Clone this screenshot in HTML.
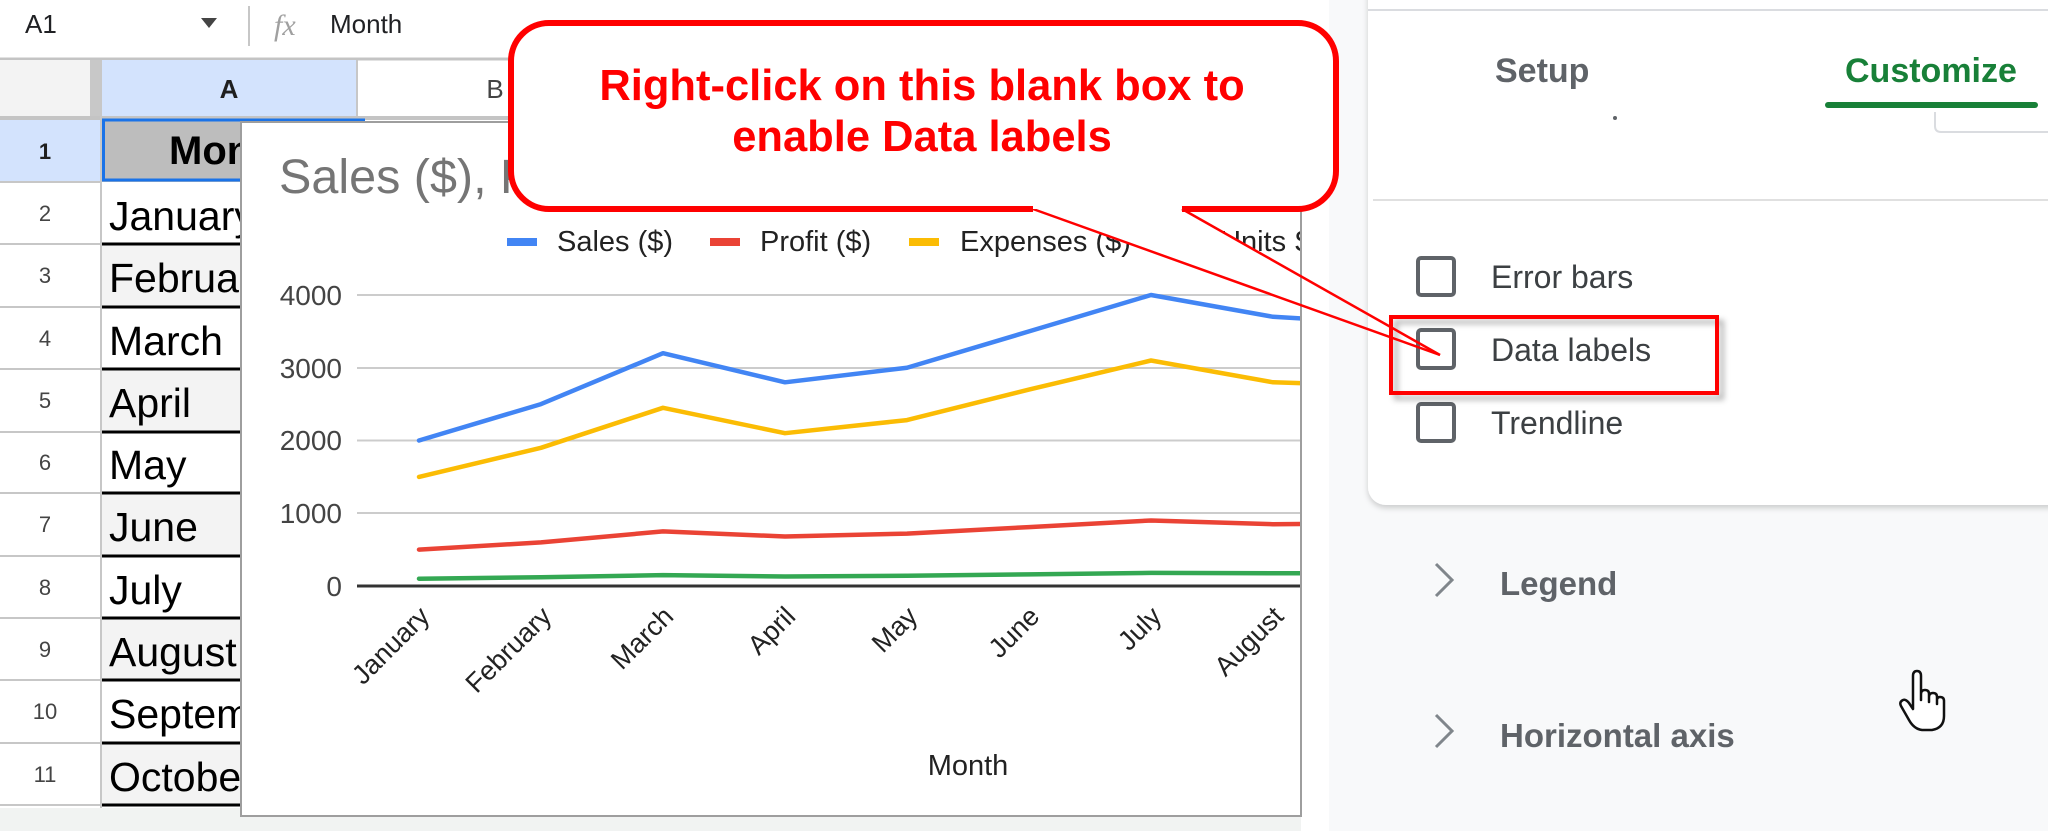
<!DOCTYPE html>
<html><head><meta charset="utf-8"><style>
html,body{margin:0;padding:0;background:#fff;}
svg{display:block;}
text{font-family:"Liberation Sans",Arial,sans-serif;}
</style></head><body>
<svg width="2048" height="831" viewBox="0 0 2048 831" xmlns="http://www.w3.org/2000/svg">
<defs>
<clipPath id="chartclip"><rect x="242" y="123" width="1058" height="693"/></clipPath>
<filter id="cardsh" x="-5%" y="-5%" width="110%" height="115%"><feDropShadow dx="0" dy="3" stdDeviation="3" flood-color="#000" flood-opacity="0.18"/></filter>
<filter id="redsh" x="-10%" y="-20%" width="125%" height="150%"><feDropShadow dx="5" dy="5" stdDeviation="3" flood-color="#000" flood-opacity="0.3"/></filter>
</defs>
<rect width="2048" height="831" fill="#fff"/>

<!-- formula bar -->
<text x="25" y="33" font-size="26" fill="#202124">A1</text>
<polygon points="201,18 217,18 209,28" fill="#444"/>
<line x1="249" y1="6" x2="249" y2="46" stroke="#c7c7c7" stroke-width="2"/>
<text x="274" y="35" font-size="30" fill="#a0a0a0" font-style="italic" style="font-family:'Liberation Serif',serif">fx</text>
<text x="330" y="33" font-size="26" fill="#202124">Month</text>
<line x1="0" y1="59" x2="1329" y2="59" stroke="#c4c4c4" stroke-width="3"/>

<!-- column header -->
<rect x="0" y="60" width="90" height="57" fill="#f3f3f3"/>
<rect x="90" y="60" width="12" height="57" fill="#c8c8c8"/>
<rect x="102" y="60" width="255" height="57" fill="#d3e3fd"/>
<line x1="357" y1="60" x2="357" y2="117" stroke="#c7c7c7" stroke-width="2"/>
<text x="229" y="98" font-size="26" fill="#1f1f1f" text-anchor="middle" font-weight="bold">A</text>
<text x="495" y="98" font-size="26" fill="#444" text-anchor="middle">B</text>
<line x1="0" y1="118" x2="1329" y2="118" stroke="#c4c4c4" stroke-width="4"/>

<!-- row headers -->
<rect x="0" y="120" width="100" height="62" fill="#d3e3fd"/>
<line x1="101" y1="60" x2="101" y2="808" stroke="#c7c7c7" stroke-width="2"/>
<g stroke="#c7c7c7" stroke-width="2">
<line x1="0" y1="182" x2="100" y2="182"/><line x1="0" y1="244" x2="100" y2="244"/>
<line x1="0" y1="307" x2="100" y2="307"/><line x1="0" y1="369" x2="100" y2="369"/>
<line x1="0" y1="432" x2="100" y2="432"/><line x1="0" y1="493" x2="100" y2="493"/>
<line x1="0" y1="556" x2="100" y2="556"/><line x1="0" y1="618" x2="100" y2="618"/>
<line x1="0" y1="680" x2="100" y2="680"/><line x1="0" y1="743" x2="100" y2="743"/>
<line x1="0" y1="805" x2="100" y2="805"/>
</g>
<g font-size="22" fill="#444" text-anchor="middle">
<text x="45" y="159" font-weight="bold" fill="#1f1f1f">1</text>
<text x="45" y="221">2</text><text x="45" y="283">3</text><text x="45" y="346">4</text>
<text x="45" y="408">5</text><text x="45" y="470">6</text><text x="45" y="532">7</text>
<text x="45" y="595">8</text><text x="45" y="657">9</text><text x="45" y="719">10</text>
<text x="45" y="782">11</text>
</g>

<!-- column A cells -->
<rect x="102" y="244" width="255" height="63" fill="#f3f3f3"/>
<rect x="102" y="369" width="255" height="63" fill="#f3f3f3"/>
<rect x="102" y="493" width="255" height="63" fill="#f3f3f3"/>
<rect x="102" y="618" width="255" height="62" fill="#f3f3f3"/>
<rect x="102" y="743" width="255" height="62" fill="#f3f3f3"/>
<rect x="102" y="120" width="255" height="62" fill="#bdbdbd"/>
<g font-size="41" fill="#000">
<text x="229" y="164" font-size="40" font-weight="bold" text-anchor="middle">Month</text>
<text x="109" y="230">January</text><text x="109" y="292">February</text>
<text x="109" y="355">March</text><text x="109" y="417">April</text>
<text x="109" y="479">May</text><text x="109" y="541">June</text>
<text x="109" y="604">July</text><text x="109" y="666">August</text>
<text x="109" y="728">September</text><text x="109" y="791">October</text>
</g>
<g stroke="#000" stroke-width="3">
<line x1="102" y1="244" x2="357" y2="244"/><line x1="102" y1="307" x2="357" y2="307"/>
<line x1="102" y1="369" x2="357" y2="369"/><line x1="102" y1="432" x2="357" y2="432"/>
<line x1="102" y1="493" x2="357" y2="493"/><line x1="102" y1="556" x2="357" y2="556"/>
<line x1="102" y1="618" x2="357" y2="618"/><line x1="102" y1="680" x2="357" y2="680"/>
<line x1="102" y1="743" x2="357" y2="743"/><line x1="102" y1="805" x2="357" y2="805"/>
</g>
<rect x="103.5" y="120" width="260" height="60" fill="none" stroke="#1a73e8" stroke-width="3"/>
<rect x="0" y="808" width="1301" height="23" fill="#f1f3f2"/>

<!-- chart -->
<rect x="241" y="122" width="1060" height="694" fill="#fff" stroke="#9e9e9e" stroke-width="2"/>
<g clip-path="url(#chartclip)">
<text x="279" y="193" font-size="48.5" fill="#757575">Sales ($), Profit ($), Expenses ($) and Units Sold</text>
<rect x="507" y="238" width="30" height="8" fill="#4285f4"/>
<text x="557" y="251" font-size="29" fill="#222">Sales ($)</text>
<rect x="710" y="238" width="30" height="8" fill="#ea4335"/>
<text x="760" y="251" font-size="29" fill="#222">Profit ($)</text>
<rect x="909" y="238" width="30" height="8" fill="#fbbc04"/>
<text x="960" y="251" font-size="29" fill="#222">Expenses ($)</text>
<rect x="1170" y="238" width="30" height="8" fill="#34a853"/>
<text x="1220" y="251" font-size="29" fill="#222">Units Sold</text>

<g stroke="#cccccc" stroke-width="2">
<line x1="357" y1="295" x2="1301" y2="295"/>
<line x1="357" y1="368" x2="1301" y2="368"/>
<line x1="357" y1="440.5" x2="1301" y2="440.5"/>
<line x1="357" y1="513" x2="1301" y2="513"/>
</g>
<g font-size="28" fill="#444" text-anchor="end">
<text x="342" y="305">4000</text><text x="342" y="378">3000</text>
<text x="342" y="450">2000</text><text x="342" y="523">1000</text>
<text x="342" y="596">0</text>
</g>
<g fill="none" stroke-width="4.5" stroke-linejoin="round" stroke-linecap="round">
<polyline stroke="#34a853" points="419,578.7 541,577.3 663,575.1 785,576.5 907,575.8 1029,574.4 1151,572.9 1273,573.3 1395,572.9"/>
<polyline stroke="#ea4335" points="419,549.6 541,542.4 663,531.4 785,536.5 907,533.6 1029,527.1 1151,520.5 1273,524.2 1395,523.4"/>
<polyline stroke="#fbbc04" points="419,476.9 541,447.8 663,407.8 785,433.2 907,420.1 1029,389.6 1151,360.5 1273,382.3 1395,385.9"/>
<polyline stroke="#4285f4" points="419,440.5 541,404.1 663,353.2 785,382.3 907,367.75 1029,331.4 1151,295 1273,316.8 1395,324.1"/>
</g>
<line x1="357" y1="586" x2="1301" y2="586" stroke="#333" stroke-width="3"/>
<g font-size="27" fill="#222" text-anchor="end">
<text transform="translate(431,618) rotate(-45)">January</text>
<text transform="translate(553,618) rotate(-45)">February</text>
<text transform="translate(675,618) rotate(-45)">March</text>
<text transform="translate(797,618) rotate(-45)">April</text>
<text transform="translate(919,618) rotate(-45)">May</text>
<text transform="translate(1041,618) rotate(-45)">June</text>
<text transform="translate(1163,618) rotate(-45)">July</text>
<text transform="translate(1285,618) rotate(-45)">August</text>
</g>
<text x="968" y="775" font-size="29" fill="#222" text-anchor="middle">Month</text>
<polygon points="1033,209 1440,355 1182,209" fill="#fff"/>
</g>

<!-- right panel -->
<rect x="1329" y="0" width="719" height="831" fill="#f8f9fa"/>
<rect x="1368" y="-40" width="720" height="545" rx="18" fill="#fff" filter="url(#cardsh)"/>
<line x1="1368" y1="10" x2="2048" y2="10" stroke="#dadce0" stroke-width="2"/>
<text x="1495" y="82" font-size="34" font-weight="bold" fill="#5f6368">Setup</text>
<text x="1845" y="82" font-size="34" font-weight="bold" fill="#188038">Customize</text>
<rect x="1825" y="102" width="213" height="6" rx="3" fill="#188038"/>
<circle cx="1615" cy="118" r="2" fill="#5f6368"/>
<path d="M1935 112 L1935 126 Q1935 132 1941 132 L2048 132" fill="none" stroke="#dadce0" stroke-width="2"/>
<line x1="1373" y1="200" x2="2048" y2="200" stroke="#e0e0e0" stroke-width="2"/>
<g fill="none" stroke="#5f6368" stroke-width="4">
<rect x="1418" y="258" width="36" height="37" rx="3"/>
<rect x="1418" y="330" width="36" height="38" rx="3"/>
<rect x="1418" y="404" width="36" height="37" rx="3"/>
</g>
<g font-size="32" fill="#3c4043">
<text x="1491" y="288">Error bars</text>
<text x="1491" y="361">Data labels</text>
<text x="1491" y="434">Trendline</text>
</g>
<rect x="1391" y="317" width="326" height="76" fill="none" stroke="#ff0000" stroke-width="4" filter="url(#redsh)"/>

<polyline points="1436,564 1452,580 1436,596" fill="none" stroke="#80868b" stroke-width="3"/>
<text x="1500" y="595" font-size="33" font-weight="bold" fill="#5f6368">Legend</text>
<polyline points="1436,715 1452,731 1436,747" fill="none" stroke="#80868b" stroke-width="3"/>
<text x="1500" y="747" font-size="33" font-weight="bold" fill="#5f6368">Horizontal axis</text>

<!-- hand cursor -->
<path d="M1913 676 Q1913 671 1917 671 Q1921 671 1921 676 L1921 700 L1921 694 Q1921 690 1925 690 Q1929 690 1929 694 L1929 702 L1929 697 Q1929 693 1933 693 Q1937 693 1937 697 L1937 704 L1937 700 Q1937 697 1940 697 Q1944 697 1944 701 L1944 716 Q1944 728 1932 730 L1922 730 Q1914 729 1909 720 L1901 706 Q1899 702 1903 700 Q1906 699 1909 703 L1913 709 Z" fill="#fff" stroke="#111" stroke-width="2.5" stroke-linejoin="round"/>

<!-- callout -->
<line x1="1033" y1="209" x2="1440" y2="355" stroke="#ff0000" stroke-width="2.5"/>
<line x1="1182" y1="209" x2="1440" y2="355" stroke="#ff0000" stroke-width="2.5"/>
<rect x="511" y="23" width="825" height="186" rx="38" fill="#fff"/>
<path d="M1182 209 L1298 209 A38 38 0 0 0 1336 171 L1336 61 A38 38 0 0 0 1298 23 L549 23 A38 38 0 0 0 511 61 L511 171 A38 38 0 0 0 549 209 L1033 209" fill="none" stroke="#ff0000" stroke-width="6"/>
<g font-size="43.5" font-weight="bold" fill="#ff0000" text-anchor="middle">
<text x="922" y="100">Right-click on this blank box to</text>
<text x="922" y="151">enable Data labels</text>
</g>
</svg>
</body></html>
